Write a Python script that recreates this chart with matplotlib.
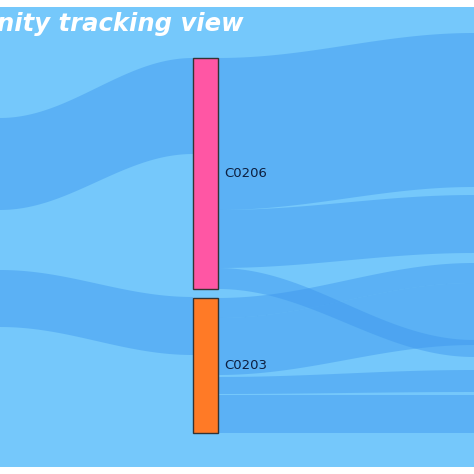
import numpy as np
import matplotlib.pyplot as plt
from matplotlib.patches import Polygon, Rectangle

# nodes: name, x, top, bottom, colour (pixel space of the view)
node_names = ["C0206", "C0203"]
node_top = [58, 298]
node_bot = [289, 433]
node_colors = ["#ff56a4", "#ff7a26"]
node_x0, node_x1 = 193, 218

# flows: (x_src, src_top, src_bot, x_dst, dst_top, dst_bot)
left_src_top = [118, 270]
left_src_bot = [210, 327]
left_dst_top = [58, 297]
left_dst_bot = [154, 355]

right_src_top = [58, 210, 268, 298, 318, 377, 395]
right_src_bot = [210, 268, 289, 318, 375, 394, 433]
right_dst_top = [33, 195, 340, 263, 283, 370, 395]
right_dst_bot = [187, 253, 357, 283, 345, 392, 433]


def ribbon(ax, x0, t0, b0, x1, t1, b1):
    s = np.linspace(0, 1, 60)
    ease = (1 - np.cos(np.pi * s)) / 2
    xs = x0 + (x1 - x0) * s
    top = t0 + (t1 - t0) * ease
    bot = b0 + (b1 - b0) * ease
    pts = np.column_stack([np.r_[xs, xs[::-1]], np.r_[top, bot[::-1]]])
    ax.add_patch(Polygon(pts, closed=True, facecolor="#3c96ee", alpha=0.45, lw=0))


fig = plt.figure(figsize=(4.74, 4.74), dpi=100)
ax = fig.add_axes([0, 0, 1, 1])
ax.set_xlim(0, 474)
ax.set_ylim(474, 0)
ax.axis("off")

ax.add_patch(Rectangle((0, 7), 474, 460, facecolor="#75c8fb", lw=0))

for i in range(len(left_src_top)):
    ribbon(ax, 0, left_src_top[i], left_src_bot[i], node_x0,
           left_dst_top[i], left_dst_bot[i])
for i in range(len(right_src_top)):
    ribbon(ax, node_x1, right_src_top[i], right_src_bot[i], 474,
           right_dst_top[i], right_dst_bot[i])

for name, t, b, c in zip(node_names, node_top, node_bot, node_colors):
    ax.add_patch(Rectangle((node_x0, t), node_x1 - node_x0, b - t,
                           facecolor=c, edgecolor="#333333", lw=1))
    ax.text(node_x1 + 6, (t + b) / 2, name, va="center", ha="left",
            fontsize=9.5, color="#0d1f40")

# title is cut off at the left edge in the source view
ax.text(-3, 24, "nity tracking view", fontsize=17.5, fontweight="bold",
        style="italic", color="white", va="center", ha="left")

fig.savefig("out.png", dpi=100)
